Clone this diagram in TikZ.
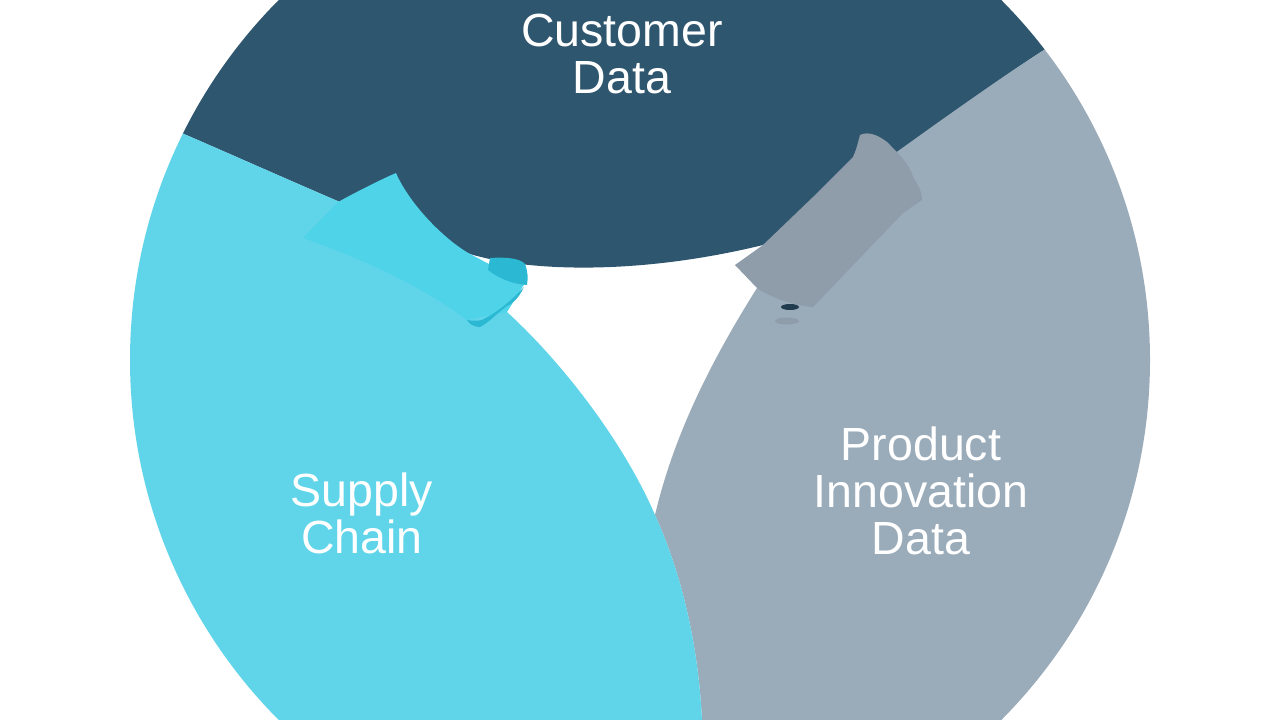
\documentclass[tikz,border=0pt]{standalone}
\usepackage{fontspec}
\setmainfont{Liberation Sans}
\usetikzlibrary{positioning}
\definecolor{navyc}{HTML}{2F566F}
\definecolor{cyanc}{HTML}{60D5EA}
\definecolor{grayc}{HTML}{9AABBA}
\definecolor{cyanflap}{HTML}{4ED3E8}
\definecolor{cyandark}{HTML}{2BB8D2}
\definecolor{grayflap}{HTML}{8F9CA9}
\tikzset{
seglabel/.style={text=white, align=center, font=\fontsize{46.5pt}{47pt}\selectfont}, % labels on the three segments
}
\begin{document}
\begin{tikzpicture}[x=1pt,y=-1pt]
\useasboundingbox (0,0) rectangle (1280,720);
\fill[white] (0,0) rectangle (1280,720);

% segments, cut by the big circle
\begin{scope}
\clip (640,360) circle (510pt);
\fill[navyc] (100,-20) -- (100,96) -- (184,134) .. controls (290,180) and (400,230) .. (470,254)
 .. controls (530,272) and (640,275) .. (763,245) .. controls (860,190) and (950,110) .. (1044,50) -- (1150,-20) -- cycle;
\fill[grayc] (1044,50) -- (1200,-20) -- (1200,740) -- (702,740) -- (702,720)
 .. controls (698,640) and (680,570) .. (655,515) .. controls (675,430) and (715,355) .. (757,288)
 -- (763,245) .. controls (800,225) and (950,110) .. (1044,50) -- cycle;
\fill[cyanc] (184,134) -- (100,96) -- (100,740) -- (702,740) -- (702,720)
 .. controls (698,640) and (680,570) .. (655,515) .. controls (625,445) and (565,365) .. (507,312)
 -- (470,254) .. controls (400,230) and (290,180) .. (184,134) -- cycle;
\end{scope}

% flaps
\fill[cyanflap] (303,238) -- (338,202) .. controls (360,190) and (380,180) .. (396,173)
 .. controls (410,205) and (445,240) .. (470,254) -- (525,283) -- (507,312) -- (467,320)
 .. controls (420,285) and (360,258) .. (303,238) -- cycle;
\fill[cyandark] (490,258) .. controls (505,257) and (520,258) .. (525,264)
 .. controls (528,272) and (528,278) .. (527,285) .. controls (512,284) and (498,278) .. (488,270) -- cycle;
\fill[cyandark] (524,287) .. controls (518,300) and (510,305) .. (507,306)
 .. controls (498,312) and (490,322) .. (480,327) .. controls (474,327) and (469,324) .. (467,320)
 .. controls (472,321) and (478,321) .. (482,320) .. controls (498,312) and (512,300) .. (524,287) -- cycle;
\fill[grayflap] (735,265) -- (763,245) -- (813,197) -- (853,157)
 .. controls (857,148) and (858,142) .. (860,135) .. controls (868,131) and (878,135) .. (887,142)
 .. controls (900,155) and (910,165) .. (913,177) .. controls (918,185) and (922,192) .. (922,200)
 -- (903,213) -- (813,307) .. controls (795,305) and (775,300) .. (757,288) -- cycle;
\fill[navyc!70!black] (790,307) ellipse (9pt and 3pt);
\fill[grayflap] (787,321) ellipse (12pt and 3.5pt);

% labels
\node[seglabel] (customer) at (622,54) {Customer\\Data};
\node[seglabel] (supply) at (362,513) {Supply\\Chain};
\node[seglabel] (product) at (921,491) {Product\\Innovation\\Data};
\end{tikzpicture}
\end{document}
